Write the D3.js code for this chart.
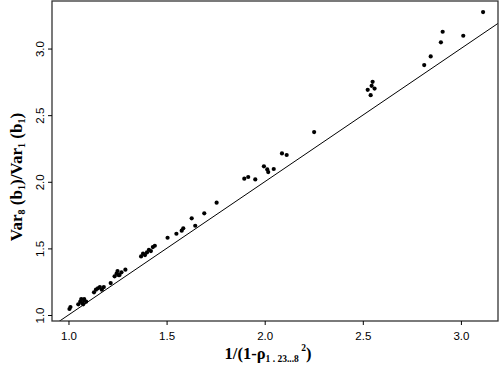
<!DOCTYPE html>
<html lang="en">
<head>
<meta charset="UTF-8">
<title>Variance ratio</title>
<script src="https://cdn.jsdelivr.net/npm/d3@7"></script>
<style>
  body { margin: 0; background: #fff; }
  text { fill: #000; }
</style>
</head>
<body>
<svg id="svg"></svg>
<script>
// values
var xVals = [1.01, 1.005, 1.05, 1.06, 1.07, 1.08, 1.08, 1.09, 1.065, 1.075,
             1.13, 1.14, 1.15, 1.16, 1.17, 1.18, 1.215,
             1.235, 1.245, 1.25, 1.26, 1.27, 1.255, 1.29,
             1.37, 1.38, 1.39, 1.40, 1.41, 1.42, 1.43, 1.44,
             1.505, 1.55, 1.577, 1.585, 1.628, 1.646, 1.692, 1.755,
             1.896, 1.916, 1.952, 1.996, 2.013, 2.018, 2.046, 2.088, 2.112,
             2.252, 2.525, 2.54, 2.55, 2.545, 2.56,
             2.813, 2.846, 2.898, 2.907, 3.012, 3.113];
var yVals = [1.06, 1.045, 1.08, 1.10, 1.09, 1.11, 1.12, 1.10, 1.12, 1.08,
             1.17, 1.19, 1.20, 1.21, 1.19, 1.21, 1.24,
             1.29, 1.31, 1.33, 1.30, 1.32, 1.30, 1.34,
             1.44, 1.46, 1.45, 1.47, 1.49, 1.48, 1.51, 1.52,
             1.58, 1.61, 1.633, 1.651, 1.726, 1.670, 1.763, 1.843,
             2.023, 2.036, 2.018, 2.116, 2.093, 2.073, 2.096, 2.213, 2.201,
             2.373, 2.69, 2.65, 2.75, 2.72, 2.70,
             2.876, 2.941, 3.047, 3.126, 3.096, 3.274];
var xTicks = [1.0, 1.5, 2.0, 2.5, 3.0];
var yTicks = [1.0, 1.5, 2.0, 2.5, 3.0];
var refLine = [0.9, 3.3];   // y = x

var w = 500, h = 366,
    padL = 52, padT = 1, padR = 498, padB = 321;

var svg = d3.select("#svg").attr("width", w).attr("height", h);

var x = d3.scaleLinear().domain([0.916, 3.189]).range([padL, padR]);
var y = d3.scaleLinear().domain([0.955, 3.357]).range([padB, padT]);

svg.append("clipPath").attr("id", "clip")
  .append("rect").attr("x", padL).attr("y", padT)
  .attr("width", padR - padL).attr("height", padB - padT);

// reference line
svg.append("line")
  .attr("clip-path", "url(#clip)")
  .attr("x1", x(refLine[0])).attr("y1", y(refLine[0]))
  .attr("x2", x(refLine[1])).attr("y2", y(refLine[1]))
  .attr("stroke", "#000").attr("stroke-width", 1);

// points
svg.selectAll("circle.pt").data(xVals).enter().append("circle")
  .attr("class", "pt")
  .attr("cx", function(d) { return x(d); })
  .attr("cy", function(d, i) { return y(yVals[i]); })
  .attr("r", 2.1)
  .attr("fill", "#000");

// box
svg.append("rect")
  .attr("x", padL).attr("y", padT)
  .attr("width", padR - padL).attr("height", padB - padT)
  .attr("fill", "none").attr("stroke", "#333").attr("stroke-width", 1.3);

// axes
var xAxis = svg.append("g")
  .attr("transform", "translate(0," + padB + ")")
  .call(d3.axisBottom(x).tickValues(xTicks).tickFormat(d3.format(".1f"))
    .tickSize(4).tickPadding(7));
xAxis.select(".domain").remove();
xAxis.selectAll("text")
  .style("font-family", "Liberation Sans, Arial, sans-serif")
  .style("font-size", "11.5px");

var yAxis = svg.append("g")
  .attr("transform", "translate(" + padL + ",0)")
  .call(d3.axisLeft(y).tickValues(yTicks).tickFormat(d3.format(".1f"))
    .tickSize(4).tickPadding(4));
yAxis.select(".domain").remove();
yAxis.selectAll(".tick text")
  .attr("transform", "rotate(-90)")
  .attr("x", 0).attr("y", -8).attr("dy", 0)
  .attr("text-anchor", "middle")
  .style("font-family", "Liberation Sans, Arial, sans-serif")
  .style("font-size", "11.5px");

// axis titles
var xt = svg.append("text")
  .attr("x", 268).attr("y", 359)
  .attr("text-anchor", "middle")
  .style("font-family", "Liberation Serif, Times New Roman, serif")
  .style("font-weight", "bold")
  .style("font-size", "16.5px");
xt.append("tspan").text("1/(1-\u03c1");
xt.append("tspan").attr("dy", 3).style("font-size", "9.5px").text("1 . 23...8");
xt.append("tspan").attr("dy", -11).style("font-size", "9.5px").text(" 2");
xt.append("tspan").attr("dy", 8).text(")");

var yt = svg.append("text")
  .attr("transform", "translate(22,177) rotate(-90)")
  .attr("text-anchor", "middle")
  .style("font-family", "Liberation Serif, Times New Roman, serif")
  .style("font-weight", "bold")
  .style("font-size", "17px");
yt.append("tspan").text("Var");
yt.append("tspan").attr("dy", 3).style("font-size", "10px").text("8");
yt.append("tspan").attr("dy", -3).text(" (b");
yt.append("tspan").attr("dy", 3).style("font-size", "10px").text("1");
yt.append("tspan").attr("dy", -3).text(")/Var");
yt.append("tspan").attr("dy", 3).style("font-size", "10px").text("1");
yt.append("tspan").attr("dy", -3).text(" (b");
yt.append("tspan").attr("dy", 3).style("font-size", "10px").text("1");
yt.append("tspan").attr("dy", -3).text(")");
</script>
</body>
</html>
